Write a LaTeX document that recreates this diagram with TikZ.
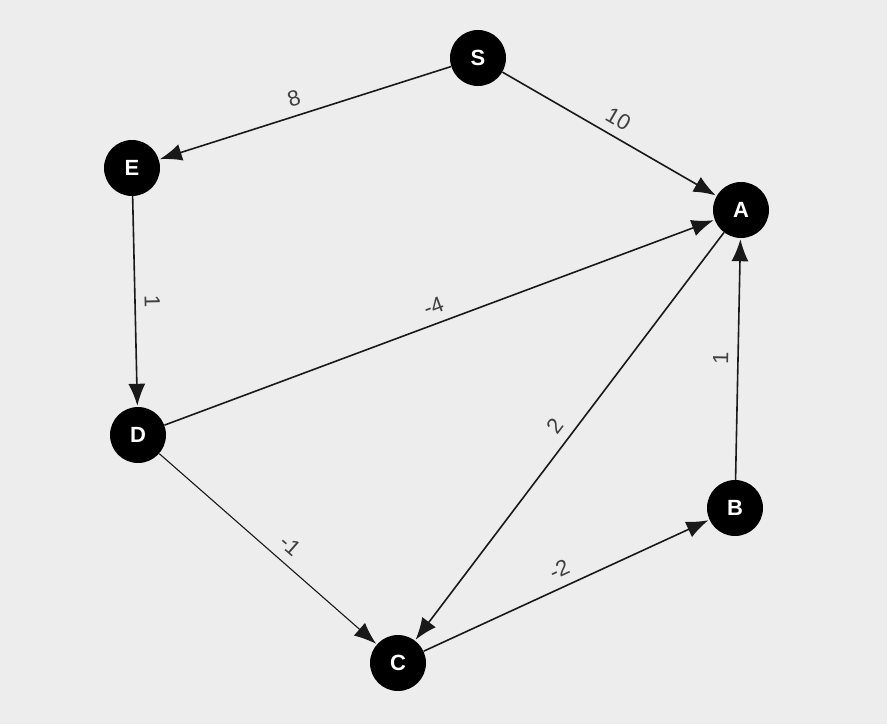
\documentclass[tikz,border=0pt]{standalone}
\usepackage{fontspec}
\setmainfont{Liberation Sans}
\usetikzlibrary{arrows.meta}
\begin{document}
\begin{tikzpicture}[x=1pt,y=-1pt,
  vtx/.style={circle,fill=black,minimum size=56pt,inner sep=0pt,text=white,font=\bfseries\fontsize{22}{22}\selectfont},
  edge/.style={draw=black!90,line width=1.6pt,-{Latex[length=22pt,width=17pt]},shorten >=1pt},
  lbl/.style={sloped,above,text=black!75,font=\fontsize{22}{22}\selectfont,inner sep=9pt}]
\fill[black!7] (0,0) rectangle (887,724);
\useasboundingbox (0,0) rectangle (887,724);
\node[vtx] (S) at (478,58) {S};
\node[vtx] (E) at (132,168) {E};
\node[vtx] (A) at (741,210) {A};
\node[vtx] (D) at (138,435) {D};
\node[vtx] (B) at (735,508) {B};
\node[vtx] (C) at (398,663) {C};
\draw[edge] (S) -- node[lbl,pos=0.52] {8} (E);
\draw[edge] (S) -- node[lbl,pos=0.5] {10} (A);
\draw[edge] (E) -- node[lbl,pos=0.5] {1} (D);
\draw[edge] (D) -- node[lbl,pos=0.5] {-4} (A);
\draw[edge] (A) -- node[lbl,pos=0.5] {2} (C);
\draw[edge] (B) -- node[lbl,pos=0.5] {1} (A);
\draw[edge,line width=1.1pt] (D) -- node[lbl,pos=0.55] {-1} (C);
\draw[edge] (C) -- node[lbl,pos=0.5] {-2} (B);
\end{tikzpicture}
\end{document}
